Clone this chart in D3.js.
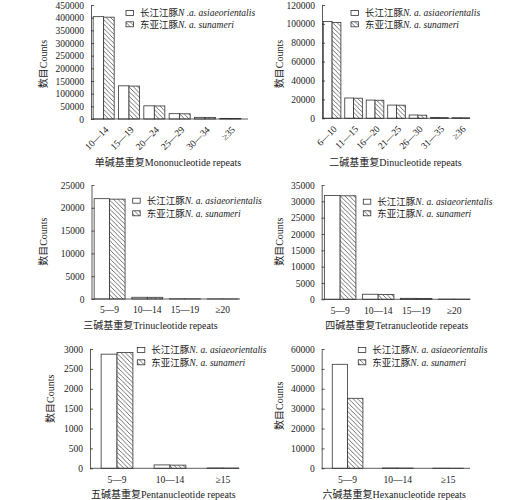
<!DOCTYPE html>
<html><head><meta charset="utf-8">
<script src="https://cdn.jsdelivr.net/npm/d3@7"></script>
<style>
body{margin:0;background:#fff}
svg text{font-family:"Liberation Serif","DejaVu Serif","Noto Sans CJK SC",serif !important;fill:#222}
</style>
</head><body>
<svg id="c" width="530" height="500"></svg>
<script>
// ---- data ----
const monoCats = ["10—14","15—19","20—24","25—29","30—34","≥35"];
const monoAsia = [404000,131000,52000,21000,6500,2500];
const monoSuna = [402000,130000,51500,20500,6000,2300];

const diCats = ["6—10","11—15","16—20","21—25","26—30","31—35","≥36"];
const diAsia = [102500,21500,19300,14000,3500,800,600];
const diSuna = [101500,21300,19100,13900,3300,700,500];

const triCats = ["5—9","10—14","15—19","≥20"];
const triAsia = [22000,380,40,20];
const triSuna = [21900,370,35,15];

const tetraCats = ["5—9","10—14","15—19","≥20"];
const tetraAsia = [31800,1550,300,60];
const tetraSuna = [31700,1450,280,50];

const pentaCats = ["5—9","10—14","≥15"];
const pentaAsia = [2870,85,8];
const pentaSuna = [2910,80,6];

const hexaCats = ["5—9","10—14","≥15"];
const hexaAsia = [52300,150,50];
const hexaSuna = [35200,120,40];

const yMax = [450000,120000,25000,35000,3000,60000];
const yStep = [50000,20000,5000,5000,500,10000];

const xTitles = ["单碱基重复Mononucleotide repeats","二碱基重复Dinucleotide repeats","三碱基重复Trinucleotide repeats","四碱基重复Tetranucleotide repeats","五碱基重复Pentanucleotide repeats","六碱基重复Hexanucleotide repeats"];
const yTitle = "数目Counts";
const legendCN = ["长江江豚","东亚江豚"];
const legendLatinP1 = ["N .a. asiaeorientalis","N. a. sunameri"];
const legendLatin = ["N. a. asiaeorientalis","N. a. sunameri"];

// ---- layout ----
const panels = [
 {cats:monoCats,a:monoAsia,b:monoSuna,i:0,x0:91,x1:248,band:[91,243],pi:0.17,po:0.085,y0:119,y1:5,rot:true,tx:168,ty:166,ytx:43,yty:64,lx:126,ly:13,lg:11.3,lat:legendLatinP1},
 {cats:diCats,a:diAsia,b:diSuna,i:1,x0:322,x1:470,band:[322,471],pi:0.18,po:0.06,y0:118.3,y1:5,rot:true,tx:395.5,ty:166,ytx:279,yty:64,lx:351,ly:13,lg:11.3,lat:legendLatin},
 {cats:triCats,a:triAsia,b:triSuna,i:2,x0:91.5,x1:240,band:[91.5,240.8],pi:0.18,po:0.07,y0:299,y1:185,rot:false,tp:7.5,tx:150.5,ty:329,ytx:43,yty:241.7,lx:132.7,ly:200.7,lg:12.6,lat:legendLatin},
 {cats:tetraCats,a:tetraAsia,b:tetraSuna,i:3,x0:321.7,x1:470,band:[321.7,472.6],pi:0.17,po:0.07,y0:299.3,y1:185,rot:false,tp:7.5,tx:396.7,ty:329,ytx:279,yty:241.7,lx:363.3,ly:201.7,lg:11.6,lat:legendLatin},
 {cats:pentaCats,a:pentaAsia,b:pentaSuna,i:4,x0:90,x1:239,band:[90,250],pi:0.40,po:0.21,y0:468.3,y1:349,rot:false,tp:8,tx:163.3,ty:498,ytx:50,yty:398.8,lx:137.3,ly:350,lg:12.3,lat:legendLatin},
 {cats:hexaCats,a:hexaAsia,b:hexaSuna,i:5,x0:321.7,x1:470,band:[321.7,474],pi:0.39,po:0.21,y0:468.3,y1:349,rot:false,tp:8,tx:394.2,ty:498,ytx:279,yty:405.8,lx:358.3,ly:350,lg:12.3,lat:legendLatin}
];

const FONT = '"Liberation Serif","DejaVu Serif","Noto Sans CJK SC",serif';
const svg = d3.select("#c");
const defs = svg.append("defs");
const pat = defs.append("pattern").attr("id","hatch").attr("patternUnits","userSpaceOnUse")
  .attr("width",4.5).attr("height",4.5);
pat.append("rect").attr("width",4.5).attr("height",4.5).attr("fill","#fff");
pat.append("path").attr("d","M-1,-1 L5.5,5.5 M3.5,-1 L5.5,1 M-1,3.5 L1,5.5")
  .attr("stroke","#333").attr("stroke-width",0.7);

const lineCol = "#333";

panels.forEach(p => {
  const g = svg.append("g").attr("font-family",FONT);
  const y = d3.scaleLinear().domain([0,yMax[p.i]]).range([p.y0,p.y1]);
  const x = d3.scaleBand().domain(p.cats).range(p.band).paddingInner(p.pi).paddingOuter(p.po);
  const xs = d3.scaleBand().domain(["a","b"]).range([0,x.bandwidth()]);

  // bars
  const groups = g.selectAll(".cat").data(p.cats).join("g")
    .attr("transform", d => `translate(${x(d)},0)`);
  groups.append("rect")
    .attr("x", xs("a")).attr("width", xs.bandwidth())
    .attr("y", (d,k) => y(p.a[k])).attr("height", (d,k) => p.y0 - y(p.a[k]))
    .attr("fill","#fff").attr("stroke",lineCol).attr("stroke-width",0.8);
  groups.append("rect")
    .attr("x", xs("b")).attr("width", xs.bandwidth())
    .attr("y", (d,k) => y(p.b[k])).attr("height", (d,k) => p.y0 - y(p.b[k]))
    .attr("fill","url(#hatch)").attr("stroke",lineCol).attr("stroke-width",0.8);

  // y axis
  const ya = d3.axisLeft(y).tickValues(d3.range(0,yMax[p.i]+1,yStep[p.i]))
    .tickFormat(d3.format("d")).tickSizeInner(-3).tickSizeOuter(0).tickPadding(7);
  const yg = g.append("g").attr("transform",`translate(${p.x0},0)`).call(ya).attr("font-family",FONT);
  yg.selectAll("path,line").attr("stroke",lineCol).attr("stroke-width",0.8);
  yg.selectAll("text").style("font-size","9.5px").style("font-family",FONT).attr("fill","#222");

  // x axis
  const xa = d3.axisBottom(x).tickSize(0).tickSizeOuter(0).tickPadding(p.rot?0:p.tp);
  const xg = g.append("g").attr("transform",`translate(0,${p.y0})`).call(xa).attr("font-family",FONT);
  xg.select(".domain").remove();
  xg.selectAll("text").style("font-size","9.5px").style("font-family",FONT).attr("fill","#222");
  if (p.rot) {
    xg.selectAll("text").attr("text-anchor","end").attr("dy","0.35em")
      .attr("transform","translate(3,9) rotate(-45)").attr("y",0);
  }
  g.append("line").attr("x1",p.x0).attr("x2",p.x1).attr("y1",p.y0).attr("y2",p.y0)
    .attr("stroke",lineCol).attr("stroke-width",0.8);

  // titles
  g.append("text").attr("x",p.tx).attr("y",p.ty).attr("text-anchor","middle")
    .style("font-size","10px").style("font-family",FONT).text(xTitles[p.i]);
  g.append("text").attr("transform",`translate(${p.ytx+3.5},${p.yty}) rotate(-90)`)
    .attr("text-anchor","middle").style("font-size","10px").style("font-family",FONT).text(yTitle);

  // legend
  [0,1].forEach(k => {
    const cy = p.ly + k*p.lg;
    g.append("rect").attr("x",p.lx).attr("y",cy-2.5).attr("width",7.5).attr("height",5)
      .attr("fill", k===0 ? "#fff" : "url(#hatch)").attr("stroke",lineCol).attr("stroke-width",0.8);
    const t = g.append("text").attr("x",p.lx+14).attr("y",cy+3.3)
      .style("font-size","9.5px").style("font-family",FONT);
    t.append("tspan").text(legendCN[k]);
    t.append("tspan").style("font-style","italic").text(p.lat[k]);
  });
});
</script>
</body></html>
